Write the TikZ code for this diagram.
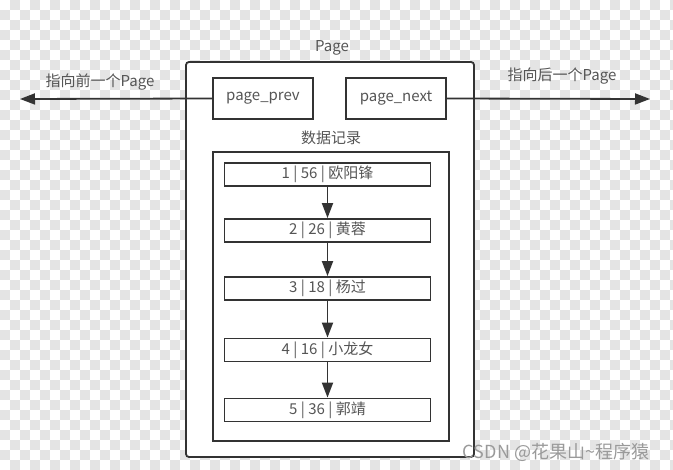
\documentclass[tikz,border=0pt]{standalone}
\usepackage{fontspec}
\setmainfont{Noto Sans CJK SC}
\usetikzlibrary{arrows.meta}
\definecolor{linegray}{HTML}{333333}
\definecolor{textgray}{HTML}{555555}
\definecolor{checkgray}{HTML}{E4E4E4}
\definecolor{markgray}{HTML}{9A9A9A}
\tikzset{
  recbox/.style={draw=linegray,line width=1.8pt,fill=white,text=textgray,inner sep=0pt},
  record/.style={recbox,minimum width=206pt,minimum height=23pt},
  ptrbox/.style={recbox,minimum width=100pt,minimum height=41pt},
  caption/.style={text=textgray},
  link/.style={draw=linegray,line width=1.8pt,-{Triangle[length=15pt,width=11pt]}},
}
\begin{document}
\begin{tikzpicture}[x=1pt,y=-1pt,every node/.style={font=\fontsize{15}{17}\selectfont}]
\useasboundingbox (0,0) rectangle (673,470);
% the checker background:
\foreach \i in {0,...,67}{
  \foreach \j in {0,...,46}{
    \pgfmathtruncatemacro{\k}{mod(\i+\j,2)}
    \ifnum\k=1 \fill [checkgray] (10*\i,10*\j) rectangle ++(10,10); \fi
  }
}
\node [recbox,rounded corners=3pt,minimum width=288pt,minimum height=395pt] (page) at (330,259.5) {};
\node [caption] (pagename) at (332,48) {Page};
\node [ptrbox] (prev) at (263,98.5) {page\_prev};
\node [ptrbox] (next) at (396,98.5) {page\_next};
\node [caption] (datname) at (331,138) {数据记录};
\node [recbox,minimum width=236pt,minimum height=289pt] (data) at (331,296.5) {};
\node [record] (rec1) at (327.5,174.5) {1 | 56 | 欧阳锋};
\node [record] (rec2) at (327.5,230.5) {2 | 26 | 黄蓉};
\node [record] (rec3) at (327.5,288.5) {3 | 18 | 杨过};
\node [record] (rec4) at (327.5,350) {4 | 16 | 小龙女};
\node [record] (rec5) at (327.5,410) {5 | 36 | 郭靖};
% the pointer arrows:
\coordinate (prevend) at (20,99);
\coordinate (nextend) at (650,99);
\draw [link] (prev.west) -- (prevend);
\draw [link] (next.east) -- (nextend);
\node [caption] (prevtext) at (100,82) {指向前一个Page};
\node [caption] (nexttext) at (562,76) {指向后一个Page};
\draw [link] (rec1) -- (rec2);
\draw [link] (rec2) -- (rec3);
\draw [link] (rec3) -- (rec4);
\draw [link] (rec4) -- (rec5);
\node [text=markgray,font=\fontsize{18}{20}\selectfont] (mark) at (556,452) {CSDN @花果山\textasciitilde 程序猿};
\end{tikzpicture}
\end{document}
